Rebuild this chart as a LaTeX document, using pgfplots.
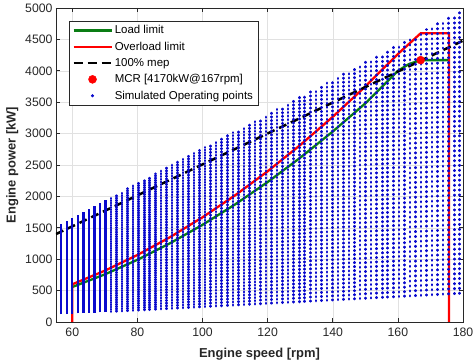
\documentclass[border=0pt]{standalone}
\usepackage{pgfplots}
\pgfplotsset{compat=1.18}
\usepackage{fontspec}
\setmainfont{Liberation Sans}
\definecolor{ldgreen}{RGB}{10,125,20}
\definecolor{dotblue}{RGB}{10,10,205}
\definecolor{gridgray}{RGB}{225,225,225}
\definecolor{axgray}{RGB}{40,40,40}
\tikzset{col/.style={dotblue, line width=2.6bp, line cap=round, dash pattern=on 0.6bp off #1}}
\begin{document}
\begin{tikzpicture}
\begin{axis}[
 scale only axis, width=407bp, height=314bp,
 xmin=55, xmax=180, ymin=0, ymax=5000,
 xtick={60,80,...,180}, ytick={0,500,...,5000},
 grid=major, major grid style={gridgray, line width=0.5bp},
 axis line style={axgray, line width=0.6bp},
 tick style={axgray, line width=0.6bp},
 major tick length=4bp,
 tick label style={font=\fontsize{12.3}{14}\selectfont, color=black!85},
 xticklabel style={yshift=-2bp},
 /pgf/number format/assume math mode=true,
 /pgf/number format/1000 sep={},
 xlabel={Engine speed [rpm]}, ylabel={Engine power [kW]},
 label style={font=\fontsize{13}{15}\selectfont\bfseries, color=black!85},
 xlabel style={yshift=-5bp},
 unbounded coords=jump,
 legend cell align=left,
 legend image code/.code={\draw[#1] (0bp,0bp) -- (38bp,0bp);},
 legend style={at={(0.032,0.959)}, anchor=north west, draw=axgray, line width=0.5bp, fill=white,
   font=\fontsize{11.5}{13.8}\selectfont, inner xsep=3bp, inner ysep=2.5bp, row sep=2.6bp},
]
% load limit
\addplot[ldgreen, line width=2.3bp, forget plot] coordinates {
(60,557) (70,758) (80,990) (90,1253) (100,1547) (110,1872) (120,2228) (130,2615)
(140,3033) (150,3481) (156,3790) (160,4000) (163.5,4110) (167,4170) (175.7,4170)};
% overload limit
\addplot[red, line width=2.3bp, forget plot] coordinates {
(60,0) (60,600) (70,817) (80,1067) (90,1350) (100,1667) (110,2017) (120,2400) (130,2817)
(140,3267) (150,3750) (160,4267) (167,4597) (175.7,4597) (175.7,0)};
% 100% mep
\addplot[black, line width=2.5bp, dash pattern=on 8bp off 5bp, forget plot] coordinates {
(55,1400) (180,4480)};
% simulated operating points (columns: speed, lowest and highest power)
\addplot[dotblue, line width=2.4bp, forget plot] coordinates {
(56.6,122) (56.6,1562) (56.6,nan)
(58.3,127) (58.3,1609) (58.3,nan)
(60.0,131) (60.0,1656) (60.0,nan)
(61.7,136) (61.7,1703) (61.7,nan)
(63.4,140) (63.4,1750) (63.4,nan)
(65.1,145) (65.1,1797) (65.1,nan)
(66.8,150) (66.8,1844) (66.8,nan)
(68.5,154) (68.5,1891) (68.5,nan)
(70.2,159) (70.2,1938)};
\addplot[col=1.66bp, forget plot] coordinates {
(71.9,163) (71.9,1984) (71.9,nan)
(73.6,168) (73.6,2031) (73.6,nan)
(75.3,172) (75.3,2078) (75.3,nan)
(77.0,177) (77.0,2125) (77.0,nan)
(78.7,182) (78.7,2172) (78.7,nan)
(80.4,186) (80.4,2219) (80.4,nan)
(82.1,191) (82.1,2266) (82.1,nan)
(83.8,195) (83.8,2313) (83.8,nan)
(85.5,200) (85.5,2360)};
\addplot[col=2.10bp, forget plot] coordinates {
(87.2,205) (87.2,2407) (87.2,nan)
(88.9,209) (88.9,2454) (88.9,nan)
(90.6,214) (90.6,2501) (90.6,nan)
(92.3,218) (92.3,2547) (92.3,nan)
(94.0,223) (94.0,2594) (94.0,nan)
(95.7,228) (95.7,2641) (95.7,nan)
(97.4,232) (97.4,2688) (97.4,nan)
(99.1,237) (99.1,2735) (99.1,nan)
(100.8,241) (100.8,2782)};
\addplot[col=2.54bp, forget plot] coordinates {
(102.5,246) (102.5,2829) (102.5,nan)
(104.2,251) (104.2,2876) (104.2,nan)
(105.9,255) (105.9,2923) (105.9,nan)
(107.6,260) (107.6,2970) (107.6,nan)
(109.3,264) (109.3,3017) (109.3,nan)
(111.0,269) (111.0,3064) (111.0,nan)
(112.7,273) (112.7,3111) (112.7,nan)
(114.4,278) (114.4,3157) (114.4,nan)
(116.1,283) (116.1,3204)};
\addplot[col=2.98bp, forget plot] coordinates {
(117.8,287) (117.8,3251) (117.8,nan)
(119.5,292) (119.5,3298) (119.5,nan)
(121.2,296) (121.2,3345) (121.2,nan)
(122.9,301) (122.9,3392) (122.9,nan)
(124.6,306) (124.6,3439) (124.6,nan)
(126.3,310) (126.3,3486) (126.3,nan)
(128.0,315) (128.0,3533) (128.0,nan)
(129.7,319) (129.7,3580) (129.7,nan)
(131.4,324) (131.4,3627)};
\addplot[col=3.42bp, forget plot] coordinates {
(133.1,329) (133.1,3674) (133.1,nan)
(134.8,333) (134.8,3720) (134.8,nan)
(136.5,338) (136.5,3767) (136.5,nan)
(138.2,342) (138.2,3814) (138.2,nan)
(139.9,347) (139.9,3861) (139.9,nan)
(141.6,352) (141.6,3908) (141.6,nan)
(143.3,356) (143.3,3955) (143.3,nan)
(145.0,361) (145.0,4002) (145.0,nan)
(146.7,365) (146.7,4049)};
\addplot[col=3.85bp, forget plot] coordinates {
(148.4,370) (148.4,4096) (148.4,nan)
(150.1,374) (150.1,4143) (150.1,nan)
(151.8,379) (151.8,4190) (151.8,nan)
(153.5,384) (153.5,4237) (153.5,nan)
(155.2,388) (155.2,4284) (155.2,nan)
(156.9,393) (156.9,4330) (156.9,nan)
(158.6,397) (158.6,4377) (158.6,nan)
(160.3,402) (160.3,4424) (160.3,nan)
(162.0,407) (162.0,4471)};
\addplot[col=4.32bp, forget plot] coordinates {
(163.7,411) (163.7,4518) (163.7,nan)
(165.4,416) (165.4,4565) (165.4,nan)
(167.1,420) (167.1,4612) (167.1,nan)
(168.8,425) (168.8,4659) (168.8,nan)
(170.5,430) (170.5,4706) (170.5,nan)
(172.2,434) (172.2,4753) (172.2,nan)
(173.9,439) (173.9,4800) (173.9,nan)
(175.6,443) (175.6,4847) (175.6,nan)
(177.3,448) (177.3,4893) (177.3,nan)
(179.0,452) (179.0,4940)};
% MCR
\addplot[only marks, mark=*, mark size=4bp, red, forget plot] coordinates {(167,4170)};
% legend
\addlegendimage{ldgreen, line width=2.3bp}
\addlegendentry{Load limit}
\addlegendimage{red, line width=2.3bp}
\addlegendentry{Overload limit}
\addlegendimage{black, line width=2.5bp, dash pattern=on 9bp off 5bp}
\addlegendentry{100\% mep}
\addlegendimage{legend image code/.code={\fill[red] (19bp,0bp) circle (4bp);}}
\addlegendentry{MCR [4170kW@167rpm]}
\addlegendimage{legend image code/.code={\fill[dotblue] (19bp,0bp) circle (1.3bp);}}
\addlegendentry{Simulated Operating points}
\end{axis}
\pgfresetboundingbox
\path[use as bounding box] ([xshift=-56bp,yshift=-42bp]current axis.south west) rectangle ([xshift=11bp,yshift=8bp]current axis.north east);
\end{tikzpicture}
\end{document}
